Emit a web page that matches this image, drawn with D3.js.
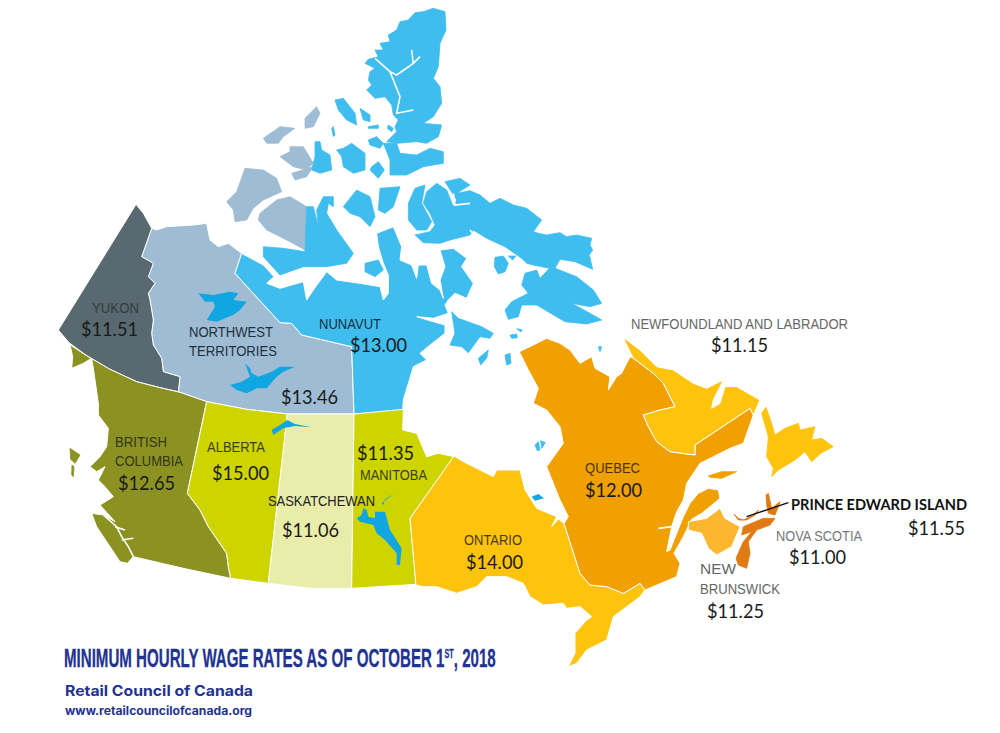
<!DOCTYPE html>
<html>
<head>
<meta charset="utf-8">
<title>Minimum hourly wage rates</title>
<script src="https://cdn.jsdelivr.net/npm/d3@7"></script>
<style>
  html, body { margin: 0; background: #fff; }
  svg { display: block; }
</style>
</head>
<body>
<div id="root"></div>
<script>
// wages and labels
const provinces = ['YUKON', 'NORTHWEST TERRITORIES', 'NUNAVUT', 'BRITISH COLUMBIA', 'ALBERTA', 'SASKATCHEWAN',
  'MANITOBA', 'ONTARIO', 'QUEBEC', 'NEWFOUNDLAND AND LABRADOR', 'PRINCE EDWARD ISLAND', 'NOVA SCOTIA', 'NEW BRUNSWICK'];
const wages = [11.51, 13.46, 13.00, 12.65, 15.00, 11.06, 11.35, 14.00, 12.00, 11.15, 11.55, 11.00, 11.25];
const fills = ['#58696f', '#9fbcd5', '#3fbdef', '#8c9221', '#cdd400', '#e9eda9', '#cdd400', '#fec30c', '#f0a000', '#fec30c', '#df7b12', '#df7b12', '#fcb731'];

// label placement: one line per row [text, x, baseline, width, colour]
const nameLines = [
  ['YUKON', 92, 313, 47, '#333b3e'], ['NORTHWEST', 189, 337, 84, '#22303a'], ['TERRITORIES', 189, 356, 88, '#22303a'],
  ['NUNAVUT', 319, 329, 62, '#1a2e3c'], ['BRITISH', 115, 447, 52, '#33351a'], ['COLUMBIA', 115, 466, 68, '#33351a'],
  ['ALBERTA', 207, 452, 58, '#3c3f10'], ['SASKATCHEWAN', 268, 506, 107, '#222'], ['MANITOBA', 360, 480, 67, '#3c3f10'],
  ['ONTARIO', 464, 545, 58, '#4a3a10'], ['QUEBEC', 585, 473, 55, '#4a3410'], ['NEWFOUNDLAND AND LABRADOR', 631, 329, 217, '#666'],
  ['NOVA SCOTIA', 776, 541, 86, '#777'], ['NEW', 700, 574, 36, '#666'], ['BRUNSWICK', 700, 594, 80, '#666']
];
const wagePos = [[81, 336], [281, 404], [350, 352], [118, 490], [212, 480], [282, 537], [357, 460], [466, 569], [585, 497], [711, 352], [908, 535], [789, 564], [707, 618]];

// traced outlines, in units of the 3x crops they were read from
const crops = { a: [50, 0], b: [50, 340], c: [400, 320], d: [390, 170], e: [660, 470] };

const yukon = [[258,613],[280,640],[305,685],[275,770],[310,790],[295,830],[315,850],[295,880],[300,900],[310,960],[305,1000],[310,1035],[335,1075],[340,1115],[390,1130],[385,1175],[330,1163],[260,1145],[180,1108],[110,1067],[57,1028],[25,990]];
const nwt = [[305,685],[320,690],[350,680],[430,675],[470,670],[480,720],[505,740],[535,730],[575,760],[555,820],[690,968],[725,970],[755,1005],[905,1040],[912,1242],[712,1242],[590,1228],[470,1205],[385,1175],[390,1130],[340,1115],[335,1075],[310,1035],[305,1000],[310,960],[300,900],[295,880],[315,850],[295,830],[310,790],[275,770]];
const nwtBanks = [[585,505],[640,510],[680,535],[695,575],[640,600],[610,625],[590,660],[555,665],[550,630],[530,605],[560,575]];
const nwtVictoria = [[630,640],[680,600],[720,590],[770,620],[765,750],[720,725],[650,690],[625,660]];
const nwtMelville = [[720,440],[760,440],[790,490],[770,510],[730,500],[690,470],[720,455]];
const nwtPrincePat = [[640,415],[690,380],[735,385],[700,410],[685,430],[650,430]];
const nwtMackenzie = [[765,355],[800,320],[810,340],[790,380],[765,385]];
const nwtSmall = [[725,520],[790,500],[770,530],[735,540]];

const nuMainland = [[575,760],[640,795],[672,830],[650,850],[690,865],[760,845],[770,900],[790,870],[830,815],[860,840],[930,850],[990,860],[1000,900],[1015,880],[1015,825],[1000,790],[985,740],[980,700],[1030,680],[1055,740],[1050,780],[1085,795],[1100,835],[1105,795],[1130,795],[1145,850],[1170,870],[1180,895],[1170,840],[1185,800],[1170,750],[1210,745],[1250,775],[1235,800],[1270,850],[1250,895],[1215,880],[1195,900],[1185,915],[1195,940],[1150,955],[1100,950],[1140,962],[1185,975],[1185,1000],[1140,1035],[1110,1060],[1130,1080],[1090,1100],[1075,1150],[1060,1200],[1058,1232],[912,1242],[905,1040],[755,1005],[725,970],[690,968],[555,820]];
const nuVictoria = [[770,620],[790,620],[805,680],[800,630],[820,590],[850,590],[850,620],[835,610],[830,640],[860,690],[910,760],[890,790],[830,800],[760,800],[690,825],[640,770],[640,740],[700,745],[765,755]];
const nuEllesmere = [[1185,35],[1150,25],[1120,35],[1095,38],[1075,60],[1050,65],[1040,90],[1015,105],[1020,125],[990,130],[1000,150],[975,150],[985,170],[955,178],[945,190],[975,205],[960,215],[955,240],[965,255],[950,270],[975,295],[1005,290],[1025,315],[1030,345],[1045,360],[1035,380],[1040,395],[1010,425],[1040,430],[1100,425],[1130,430],[1165,410],[1175,375],[1120,370],[1150,350],[1175,310],[1170,260],[1150,235],[1165,200],[1170,130],[1188,90]];
const nuDevon = [[1000,430],[1020,480],[1020,525],[1070,525],[1120,500],[1180,490],[1180,455],[1140,445],[1100,465],[1050,460],[1040,430]];
const nuDevonW = [[955,420],[980,410],[1000,430],[990,445],[960,435]];
const nuAxel = [[855,300],[880,295],[915,340],[920,375],[890,360],[865,330]];
const nuAmund = [[930,325],[960,345],[960,365],[940,360]];
const nuBits1 = [[955,380],[985,375],[985,385],[955,385]];
const nuBits2 = [[1015,375],[1030,385],[1025,395],[1012,385]];
const nuBits3 = [[850,380],[855,405],[850,410],[845,385]];
const nuMelvilleE = [[795,425],[810,425],[815,450],[840,465],[845,510],[810,520],[785,510],[795,470]];
const nuBathurst = [[860,450],[880,445],[905,430],[945,460],[945,510],[910,520],[880,500],[875,470]];
const nuCornwallis = [[965,500],[985,485],[1003,510],[985,535],[960,510]];
const nuPrinceWales = [[880,620],[920,570],[960,590],[975,650],[960,680],[930,650],[900,640]];
const nuSomerset = [[990,565],[1050,560],[1030,620],[1005,640],[985,630]];
const nuKingWm = [[945,790],[985,780],[1000,810],[975,830],[945,815]];
const nuBrodeur = [[55,100],[75,55],[105,45],[95,100],[125,155],[110,180],[80,180],[55,150]];
const nuBaffin = [[165,35],[210,25],[240,45],[200,70],[240,62],[270,75],[300,100],[330,85],[370,105],[410,115],[455,150],[430,185],[445,190],[470,195],[510,188],[530,200],[560,195],[605,205],[600,225],[608,240],[598,255],[608,298],[555,275],[510,268],[495,295],[560,320],[610,360],[635,400],[600,410],[545,400],[600,430],[635,450],[590,462],[525,455],[440,405],[395,405],[385,440],[355,448],[345,420],[365,395],[415,370],[395,345],[405,310],[440,300],[450,325],[478,295],[430,285],[410,280],[395,265],[345,230],[290,205],[250,180],[240,195],[180,210],[150,220],[100,218],[75,195],[120,185],[135,165],[120,130],[100,100],[110,65],[140,40],[170,60],[190,110],[200,90]];
const nuPrinceCharles = [[315,262],[340,258],[355,280],[345,305],[325,312],[313,290]];
const nuSouthampton = [[185,425],[205,445],[275,470],[310,490],[300,505],[270,500],[235,548],[215,530],[180,525],[195,490]];
const nuCoats = [[265,565],[295,540],[290,565],[272,585]];
const nuMansel = [[345,555],[360,550],[363,580],[350,585]];
const nuSmall1 = [[360,495],[380,492],[382,503],[365,505]];
const nuSmall2 = [[380,476],[397,480],[392,486]];
const nuSmall3 = [[355,258],[378,258],[368,270]];
const nuSmall4 = [[625,530],[635,530],[630,545]];

const bc = [[60,14],[110,47],[180,88],[260,125],[330,143],[390,157],[470,185],[412,460],[450,510],[475,560],[530,640],[535,680],[542,715],[400,685],[250,650],[232,670],[210,665],[180,620],[140,560],[125,520],[160,525],[195,545],[150,495],[190,470],[165,440],[145,420],[165,380],[140,395],[120,380],[150,350],[170,320],[175,265],[145,225],[145,190],[130,85],[125,55],[100,70],[65,85],[68,50]];
const haida = [[60,325],[90,345],[75,370],[62,358]];
const haidaSmall = [[66,375],[72,380],[70,410],[65,405]];
const alberta = [[470,185],[590,208],[712,222],[655,730],[542,715],[535,680],[530,640],[475,560],[450,510],[412,460]];
const sask = [[712,222],[912,222],[905,745],[780,745],[655,730]];
const manitoba = [[912,222],[1060,208],[1058,270],[1100,280],[1130,350],[1165,340],[1212,350],[1080,535],[1098,733],[905,745]];

const ontario = [[162,408],[190,425],[240,450],[280,470],[290,450],[360,450],[375,510],[410,565],[470,590],[455,620],[475,597],[492,610],[540,760],[570,795],[620,800],[670,820],[720,790],[735,810],[720,830],[640,890],[620,960],[560,990],[530,1030],[505,1040],[525,1000],[525,940],[560,900],[575,890],[540,860],[500,865],[490,850],[430,855],[390,830],[370,790],[320,770],[260,770],[230,800],[170,820],[110,800],[70,800],[48,795],[30,595]];
const quebec = [[358,95],[400,75],[440,55],[480,70],[510,90],[540,130],[575,110],[585,145],[630,170],[625,210],[650,170],[665,160],[690,110],[700,115],[760,160],[790,190],[825,260],[780,270],[730,285],[745,320],[770,365],[810,395],[885,405],[885,375],[1050,265],[1060,285],[1030,370],[990,385],[940,410],[900,430],[860,490],[850,540],[830,575],[815,620],[800,695],[810,690],[830,640],[850,590],[870,550],[895,520],[925,505],[955,510],[960,535],[930,560],[905,580],[875,598],[862,625],[850,650],[822,700],[840,730],[830,770],[735,810],[720,790],[670,820],[620,800],[570,795],[540,760],[492,610],[505,590],[480,540],[440,440],[490,370],[480,320],[440,270],[400,250],[415,205],[385,150]];
const labrador = [[670,55],[680,60],[720,90],[770,140],[820,150],[880,190],[920,205],[970,180],[940,240],[935,265],[960,250],[975,200],[1010,200],[1080,240],[1060,285],[1050,265],[885,375],[885,405],[810,395],[770,365],[745,320],[730,285],[780,270],[825,260],[790,190],[760,160],[700,115]];
const newfoundland = [[1085,280],[1098,262],[1115,310],[1125,345],[1155,325],[1195,310],[1200,330],[1245,320],[1235,360],[1265,355],[1300,380],[1262,400],[1235,425],[1215,395],[1185,420],[1135,450],[1115,470],[1120,445],[1100,410],[1105,350]];
const anticosti = [[925,468],[965,455],[1010,455],[965,475],[930,472]];
const newBrunswick = [[85,155],[140,145],[180,115],[195,145],[240,170],[215,230],[170,255],[145,235],[125,190],[85,180]];
const novaScotia = [[345,145],[330,165],[290,180],[265,215],[270,250],[260,295],[235,285],[228,265],[250,215],[275,185],[245,195],[250,170],[310,145]];
const capeBreton = [[318,75],[325,70],[335,115],[360,95],[355,110],[345,135],[325,130],[320,105]];
const pei = [[222,132],[235,145],[250,150],[280,135],[295,120],[285,135],[260,150],[235,150]];

const bearLake = [[445,880],[490,885],[540,875],[565,880],[550,900],[590,905],[570,930],[550,945],[500,965],[470,960],[495,920],[490,905],[465,905]];
const slaveLake = [[585,1090],[600,1105],[605,1120],[625,1130],[665,1115],[690,1100],[735,1100],[700,1115],[680,1130],[650,1165],[620,1165],[590,1180],[560,1170],[540,1155],[575,1145],[600,1130]];
const athabasca = [[712,240],[735,252],[785,262],[735,258],[700,265],[670,285],[665,270],[690,255]];
const winnipeg = [[975,515],[1005,515],[1020,570],[1055,625],[1050,675],[1040,675],[1040,640],[1005,600],[980,580],[970,555],[930,545],[920,535],[935,525],[940,505],[950,510],[955,530],[975,535]];
const reindeer = [[995,490],[1030,463],[1005,478],[1000,495]];
const stLakeC = [[395,530],[415,522],[432,535],[405,542]];
const hudsonBit1 = [[405,375],[415,365],[420,390],[412,392]];
const hudsonBit2 = [[422,362],[436,368],[425,385]];

// outlines that meet a neighbour, so they keep a white edge
const bordered = [
  ['a', nwt, 1], ['a', yukon, 0], ['a', nuMainland, 2],
  ['b', bc, 3], ['b', alberta, 4], ['b', sask, 5], ['b', manitoba, 6],
  ['c', ontario, 7], ['c', quebec, 8], ['c', labrador, 9], ['e', newBrunswick, 12]
];
const islands = [
  ['a', nwtBanks, 1], ['a', nwtVictoria, 1], ['a', nwtMelville, 1], ['a', nwtPrincePat, 1], ['a', nwtMackenzie, 1], ['a', nwtSmall, 1],
  ['a', nuVictoria, 2], ['a', nuEllesmere, 2], ['a', nuDevon, 2], ['a', nuDevonW, 2], ['a', nuAxel, 2], ['a', nuAmund, 2],
  ['a', nuBits1, 2], ['a', nuBits2, 2], ['a', nuBits3, 2], ['a', nuMelvilleE, 2], ['a', nuBathurst, 2], ['a', nuCornwallis, 2], ['a', nuPrinceWales, 2],
  ['a', nuSomerset, 2], ['a', nuKingWm, 2], ['d', nuBrodeur, 2], ['d', nuBaffin, 2], ['d', nuPrinceCharles, 2], ['d', nuSouthampton, 2], ['d', nuCoats, 2],
  ['d', nuMansel, 2], ['d', nuSmall1, 2], ['d', nuSmall2, 2], ['d', nuSmall3, 2], ['d', nuSmall4, 2],
  ['b', haida, 3], ['b', haidaSmall, 3], ['c', anticosti, 8], ['c', newfoundland, 9],
  ['e', pei, 10], ['e', novaScotia, 11], ['e', capeBreton, 11], ['c', hudsonBit1, 2], ['c', hudsonBit2, 2]
];
const lakes = [['a', bearLake], ['a', slaveLake], ['b', athabasca], ['b', winnipeg], ['b', reindeer], ['c', stLakeC]];

// white fjord and inlet cuts
const cuts = [
  ['a', [[975,175],[1020,215],[1040,225],[1090,190],[1110,170]]], ['a', [[1020,215],[1050,290],[1040,340],[1090,330]]], ['a', [[1090,190],[1085,150]]],
  ['b', [[160,525],[200,560],[215,590],[235,620],[250,650]]], ['b', [[195,560],[225,570]]], ['b', [[215,600],[250,595]]],
  ['c', [[775,625],[815,620]]], ['d', [[190,70],[195,105],[240,100]]], ['d', [[240,180],[270,215],[265,250]]]
];

const width = 1000, height = 733;
const svg = d3.select('#root').append('svg').attr('width', width).attr('height', height);

const scales = {};
Object.keys(crops).forEach(k => {
  scales[k] = {
    x: d3.scaleLinear().domain([0, 3]).range([crops[k][0], crops[k][0] + 1]),
    y: d3.scaleLinear().domain([0, 3]).range([crops[k][1], crops[k][1] + 1])
  };
});
const outline = (k, closed) => d3.line().x(d => scales[k].x(d[0])).y(d => scales[k].y(d[1])).curve(closed ? d3.curveLinearClosed : d3.curveLinear);

svg.append('g').selectAll('path').data(bordered).join('path')
  .attr('d', d => outline(d[0], true)(d[1]))
  .attr('fill', d => fills[d[2]])
  .attr('stroke', '#fff')
  .attr('stroke-width', 1)
  .attr('stroke-linejoin', 'round');

svg.append('g').selectAll('path').data(islands).join('path')
  .attr('d', d => outline(d[0], true)(d[1]))
  .attr('fill', d => fills[d[2]])
  .attr('stroke', d => fills[d[2]])
  .attr('stroke-width', 0.8)
  .attr('stroke-linejoin', 'round');

svg.append('g').selectAll('path').data(cuts).join('path')
  .attr('d', d => outline(d[0], false)(d[1]))
  .attr('fill', 'none')
  .attr('stroke', '#fff')
  .attr('stroke-width', 1.6);

svg.append('g').selectAll('path').data(lakes).join('path')
  .attr('d', d => outline(d[0], true)(d[1]))
  .attr('fill', '#0fa6e2');

// PEI leader line
svg.append('path').attr('d', outline('c', false)([[1040, 590], [1165, 548]]))
  .attr('stroke', '#111').attr('stroke-width', 1.4).attr('fill', 'none');

svg.append('g').selectAll('text').data(nameLines).join('text')
  .attr('x', d => d[1]).attr('y', d => d[2])
  .attr('textLength', d => d[3]).attr('lengthAdjust', 'spacingAndGlyphs')
  .attr('font-family', '"Liberation Sans", Arial, sans-serif').attr('font-size', 15.5)
  .attr('fill', d => d[4])
  .text(d => d[0]);

svg.append('text').attr('x', 791).attr('y', 510)
  .attr('textLength', 176).attr('lengthAdjust', 'spacingAndGlyphs')
  .attr('font-family', 'Lato, sans-serif').attr('font-size', 15.5).attr('font-weight', 700)
  .attr('fill', '#111').text(provinces[10]);

const money = d3.format('$.2f');
svg.append('g').selectAll('text').data(wages).join('text')
  .attr('x', (d, i) => wagePos[i][0]).attr('y', (d, i) => wagePos[i][1])
  .attr('textLength', 57).attr('lengthAdjust', 'spacingAndGlyphs')
  .attr('font-family', 'Lato, sans-serif').attr('font-size', 20)
  .attr('fill', '#1a1a1a')
  .text(d => money(d));

// title block, one text stretched to the reference width
const blue = '#1f3390';
const title = svg.append('text')
  .attr('font-family', '"Liberation Sans Narrow", "Liberation Sans", sans-serif')
  .attr('font-weight', 700).attr('font-size', 25)
  .attr('fill', blue).attr('stroke', blue).attr('stroke-width', 0.3);
title.append('tspan').text('MINIMUM HOURLY WAGE RATES AS OF OCTOBER 1');
title.append('tspan').attr('font-size', 12).attr('dy', -9).text('ST');
title.append('tspan').attr('dy', 9).text(', 2018');
title.attr('transform', `translate(64,667) scale(${432 / title.node().getComputedTextLength()},1)`);

const footBits = [['Retail Council of Canada', 65, 696, 188, 14.5], ['www.retailcouncilofcanada.org', 65, 715, 187, 11.5]];
svg.append('g').selectAll('text').data(footBits).join('text')
  .attr('x', d => d[1]).attr('y', d => d[2])
  .attr('textLength', d => d[3]).attr('lengthAdjust', 'spacingAndGlyphs')
  .attr('font-family', 'Inter, "Open Sans", sans-serif').attr('font-weight', 700).attr('font-size', d => d[4])
  .attr('fill', blue).text(d => d[0]);
</script>
</body>
</html>
